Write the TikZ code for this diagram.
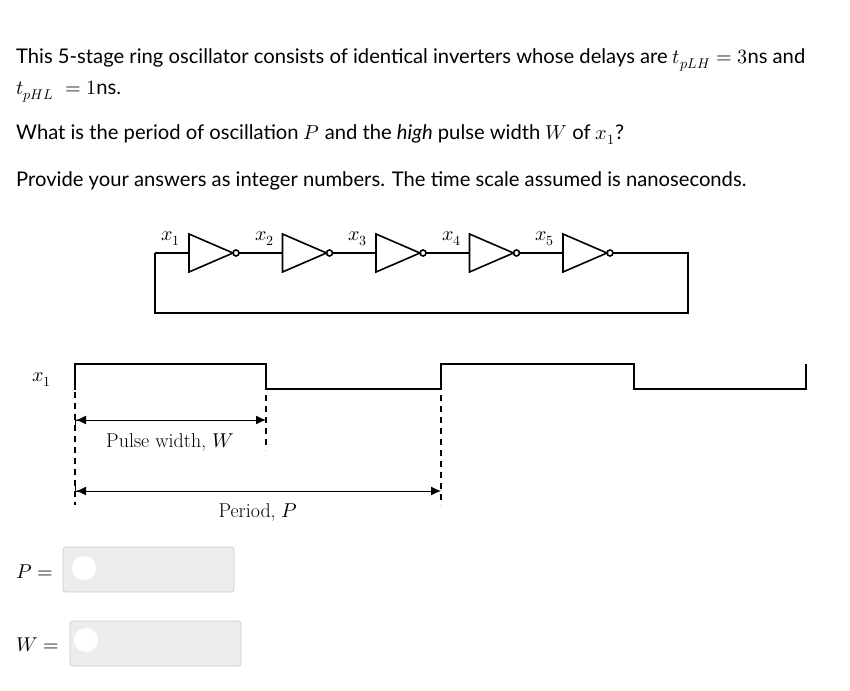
\documentclass[tikz,border=0pt]{standalone}
\usepackage{fontspec}
\setmainfont{Lato}
\usepackage{unicode-math}
\setmathfont{Latin Modern Math}
\usetikzlibrary{arrows.meta}
\newfontfamily\lmfont{Latin Modern Roman}
\begin{document}
\begin{tikzpicture}[x=1pt,y=-1pt,
  txt/.style={anchor=west,inner sep=0pt,font=\fontsize{20.2}{22}\selectfont},
  wire/.style={line width=2.2pt},
  inv/.style={line width=1.6pt},
  lab/.style={inner sep=0pt,font=\fontsize{20}{22}\selectfont\lmfont},
  dashln/.style={line width=1.2pt,dash pattern=on 6pt off 5pt},
  dim/.style={line width=1pt,{Bar[width=10pt]Latex[length=10pt,width=9pt]}-{Latex[length=10pt,width=9pt]}},
  ansbox/.style={draw=black!20,fill=black!7,rounded corners=3pt,line width=0.8pt}]
\useasboundingbox (0,0) rectangle (850,690);
\node[txt] (t1) at (16,60) {This 5-stage ring oscillator consists of identical inverters whose delays are $t_{pLH}=3$ns and};
\node[txt] (t2) at (16,92) {$t_{pHL}\;=1$ns.};
\node[txt] (t3) at (16,135) {What is the period of oscillation $P$ and the \textit{high} pulse width $W$ of $x_1$?};
\node[txt] (t4) at (16,181) {Provide your answers as integer numbers. The time scale assumed is nanoseconds.};
% ring
\coordinate (L) at (155,253);
\coordinate (R) at (688,253);
\foreach \i in {0,...,4}{
  \pgfmathsetmacro{\xx}{189+93.5*\i}
  \pgfmathtruncatemacro{\k}{\i+1}
  \draw[inv] (\xx,234) -- (\xx+44,253) -- (\xx,272) -- cycle;
  \draw[inv] (\xx+47,253) circle (3pt);
  \coordinate (in\i) at (\xx,253);
  \coordinate (out\i) at (\xx+50,253);
  \node[lab] (xl\i) at (\xx-18,239) {$x_{\k}$};
}
\draw[inv] (L) -- (in0);
\draw[inv] (out0) -- (in1);
\draw[inv] (out1) -- (in2);
\draw[inv] (out2) -- (in3);
\draw[inv] (out3) -- (in4);
\draw[inv] (out4) -- (R) -- (688,313) -- (155,313) -- (L);
% waveform
\node[lab] (wx) at (42,380) {$x_{1}$};
\draw[wire] (75,390) -- (75,364) -- (266,364) -- (266,389) -- (441,389) -- (441,364) -- (634,364) -- (634,389) -- (806,389) -- (806,364);
\draw[dashln] (75,392) -- (75,505);
\draw[dashln] (266,395) -- (266,450);
\draw[dashln] (441,395) -- (441,505);
\coordinate (wa) at (75,420); \coordinate (wb) at (266,420);
\coordinate (pa) at (75,491); \coordinate (pb) at (441,491);
\draw[dim] (wa) -- (wb);
\draw[dim] (pa) -- (pb);
\node[lab] (wl) at (170,442) {Pulse width, $W$};
\node[lab] (pl) at (258,512) {Period, $P$};
% answers
\node[lab,anchor=west] (pe) at (16,572) {$P=$};
\draw[ansbox] (63,547) rectangle (234,592);
\fill[white] (84,568) circle (12);
\node[lab,anchor=west] (we) at (16,645) {$W=$};
\draw[ansbox] (70,621) rectangle (241,666);
\fill[white] (86,640) circle (12);
\end{tikzpicture}
\end{document}
